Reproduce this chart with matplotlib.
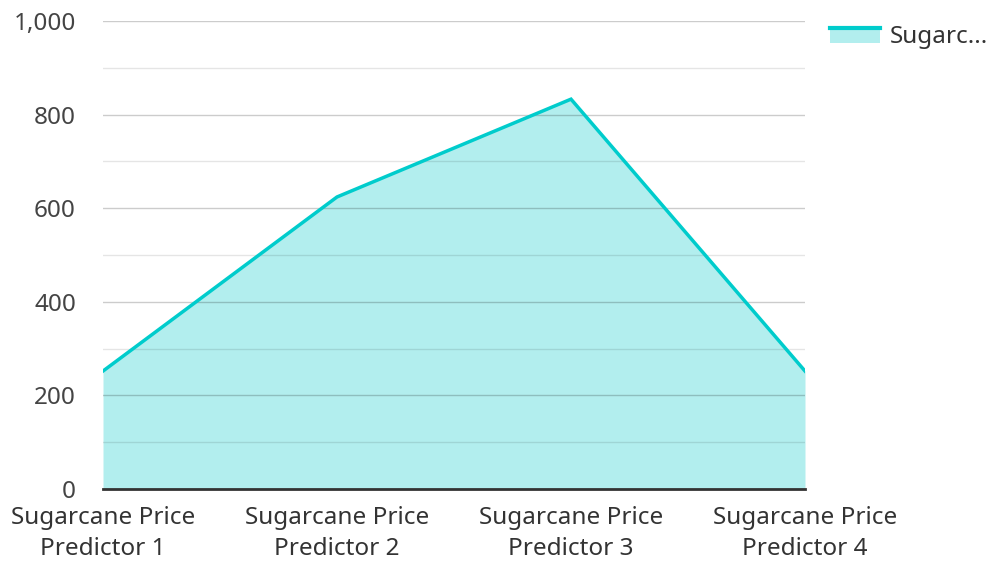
import matplotlib
matplotlib.use("Agg")
import matplotlib.pyplot as plt
from matplotlib.ticker import FuncFormatter, MultipleLocator
from matplotlib.patches import Rectangle
from matplotlib.lines import Line2D
from matplotlib.legend_handler import HandlerBase

categories = ["Sugarcane Price\nPredictor 1", "Sugarcane Price\nPredictor 2",
              "Sugarcane Price\nPredictor 3", "Sugarcane Price\nPredictor 4"]
values = [252, 624, 833, 252]
series_name = "Sugarc..."

plt.rcParams['font.family'] = ['Noto Sans', 'DejaVu Sans']

fig = plt.figure(figsize=(9.91, 5.62), dpi=100)
ax = fig.add_axes([103/991, 1-489/562, (805-103)/991, (489-21)/562])

x = list(range(len(categories)))
line_c = "#00cccc"
fill_c = "#b2eeee"
ax.fill_between(x, values, 0, color=fill_c, lw=0, zorder=1)
ax.plot(x, values, color=line_c, lw=2.5, zorder=3, solid_joinstyle='miter')

ax.set_xlim(0, 3)
ax.set_ylim(0, 1000)
ax.yaxis.set_major_locator(MultipleLocator(200))
ax.yaxis.set_minor_locator(MultipleLocator(100))
ax.yaxis.set_major_formatter(FuncFormatter(lambda v, p: f"{int(v):,}"))
ax.grid(axis='y', which='major', color='black', alpha=0.2, lw=1, zorder=2)
ax.grid(axis='y', which='minor', color='black', alpha=0.1, lw=1, zorder=2)
ax.set_axisbelow(False)
for s in ['top', 'right', 'left']:
    ax.spines[s].set_visible(False)
ax.spines['bottom'].set_color('#333333')
ax.spines['bottom'].set_linewidth(2)
ax.spines['bottom'].set_zorder(4)
ax.set_xticks(x)
ax.set_xticklabels(categories)
ax.tick_params(axis='x', length=0, pad=12.5, labelsize=17.5, colors='#444444')
ax.tick_params(axis='y', which='both', length=0, pad=19.5, labelsize=17.5, colors='#444444')
for lbl in ax.get_xticklabels():
    lbl.set_linespacing(1.36)
    lbl.set_color('#333333')


class AreaHandler(HandlerBase):
    def create_artists(self, legend, orig_handle, xdescent, ydescent, width, height, fontsize, trans):
        rect = Rectangle((-xdescent, -ydescent), width, height * 0.9, facecolor=fill_c,
                         edgecolor='none', transform=trans)
        ytop = -ydescent + height * 0.9
        ln = Line2D([-xdescent, -xdescent + width], [ytop, ytop], color=line_c, lw=3, transform=trans)
        return [rect, ln]


dummy = Line2D([], [])
leg = fig.legend([dummy], [series_name], loc='upper left', bbox_to_anchor=(830/991, 1-25/562),
                 frameon=False, fontsize=17.5, handlelength=2.05, handletextpad=0.42,
                 borderpad=0, borderaxespad=0,
                 handler_map={Line2D: AreaHandler()})
for t in leg.get_texts():
    t.set_color('#333333')

fig.savefig("out.png", dpi=100)
